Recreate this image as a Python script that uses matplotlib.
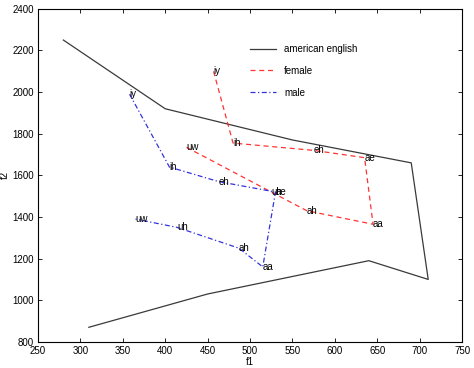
import matplotlib.pyplot as plt

# formant outline of american english vowels
eng_f1 = [280, 400, 550, 690, 710, 640, 450, 310]
eng_f2 = [2250, 1920, 1770, 1660, 1100, 1190, 1030, 870]

vowels = ["iy", "ih", "eh", "ae", "aa", "ah", "uh", "uw"]

female_f1 = [457, 480, 575, 635, 645, 567, 525, 425]
female_f2 = [2100, 1755, 1720, 1685, 1365, 1430, 1520, 1735]

male_f1 = [358, 405, 463, 530, 515, 487, 414, 365]
male_f2 = [1990, 1640, 1570, 1520, 1160, 1250, 1350, 1390]

plt.rcParams['font.family'] = ['Liberation Sans', 'DejaVu Sans']
plt.rcParams['font.size'] = 7

fig = plt.figure(figsize=(4.74, 3.68), dpi=100)
ax = fig.add_axes([0.080, 0.071, 0.895, 0.905])

ax.plot(eng_f1, eng_f2, '-', color='#3a3a3a', lw=0.9, label='american english')
ax.plot(female_f1, female_f2, '--', color='#ff3333', lw=0.9, dashes=(4, 3), label='female')
ax.plot(male_f1, male_f2, '-.', color='#3333dd', lw=0.9, dashes=(4, 2, 1, 2), label='male')

for v, x, y in zip(vowels, female_f1, female_f2):
    ax.text(x, y, v, ha='left', va='center', fontsize=7)
for v, x, y in zip(vowels, male_f1, male_f2):
    ax.text(x, y, v, ha='left', va='center', fontsize=7)

ax.set_xlim(250, 750)
ax.set_ylim(800, 2400)
ax.set_xticks(range(250, 751, 50))
ax.set_yticks(range(800, 2401, 200))
ax.tick_params(direction='in', top=True, right=True, length=3, width=0.6, labelsize=7, pad=3)
for s in ax.spines.values():
    s.set_linewidth(0.8)
ax.set_xlabel("f1", fontsize=7, labelpad=1)
ax.set_ylabel("f2", fontsize=7, labelpad=2)

ax.legend(loc='upper left', bbox_to_anchor=(0.48, 0.92), frameon=False,
          fontsize=7, handlelength=2.6, handletextpad=0.9, labelspacing=1.2)

fig.savefig("out.png", dpi=100)
